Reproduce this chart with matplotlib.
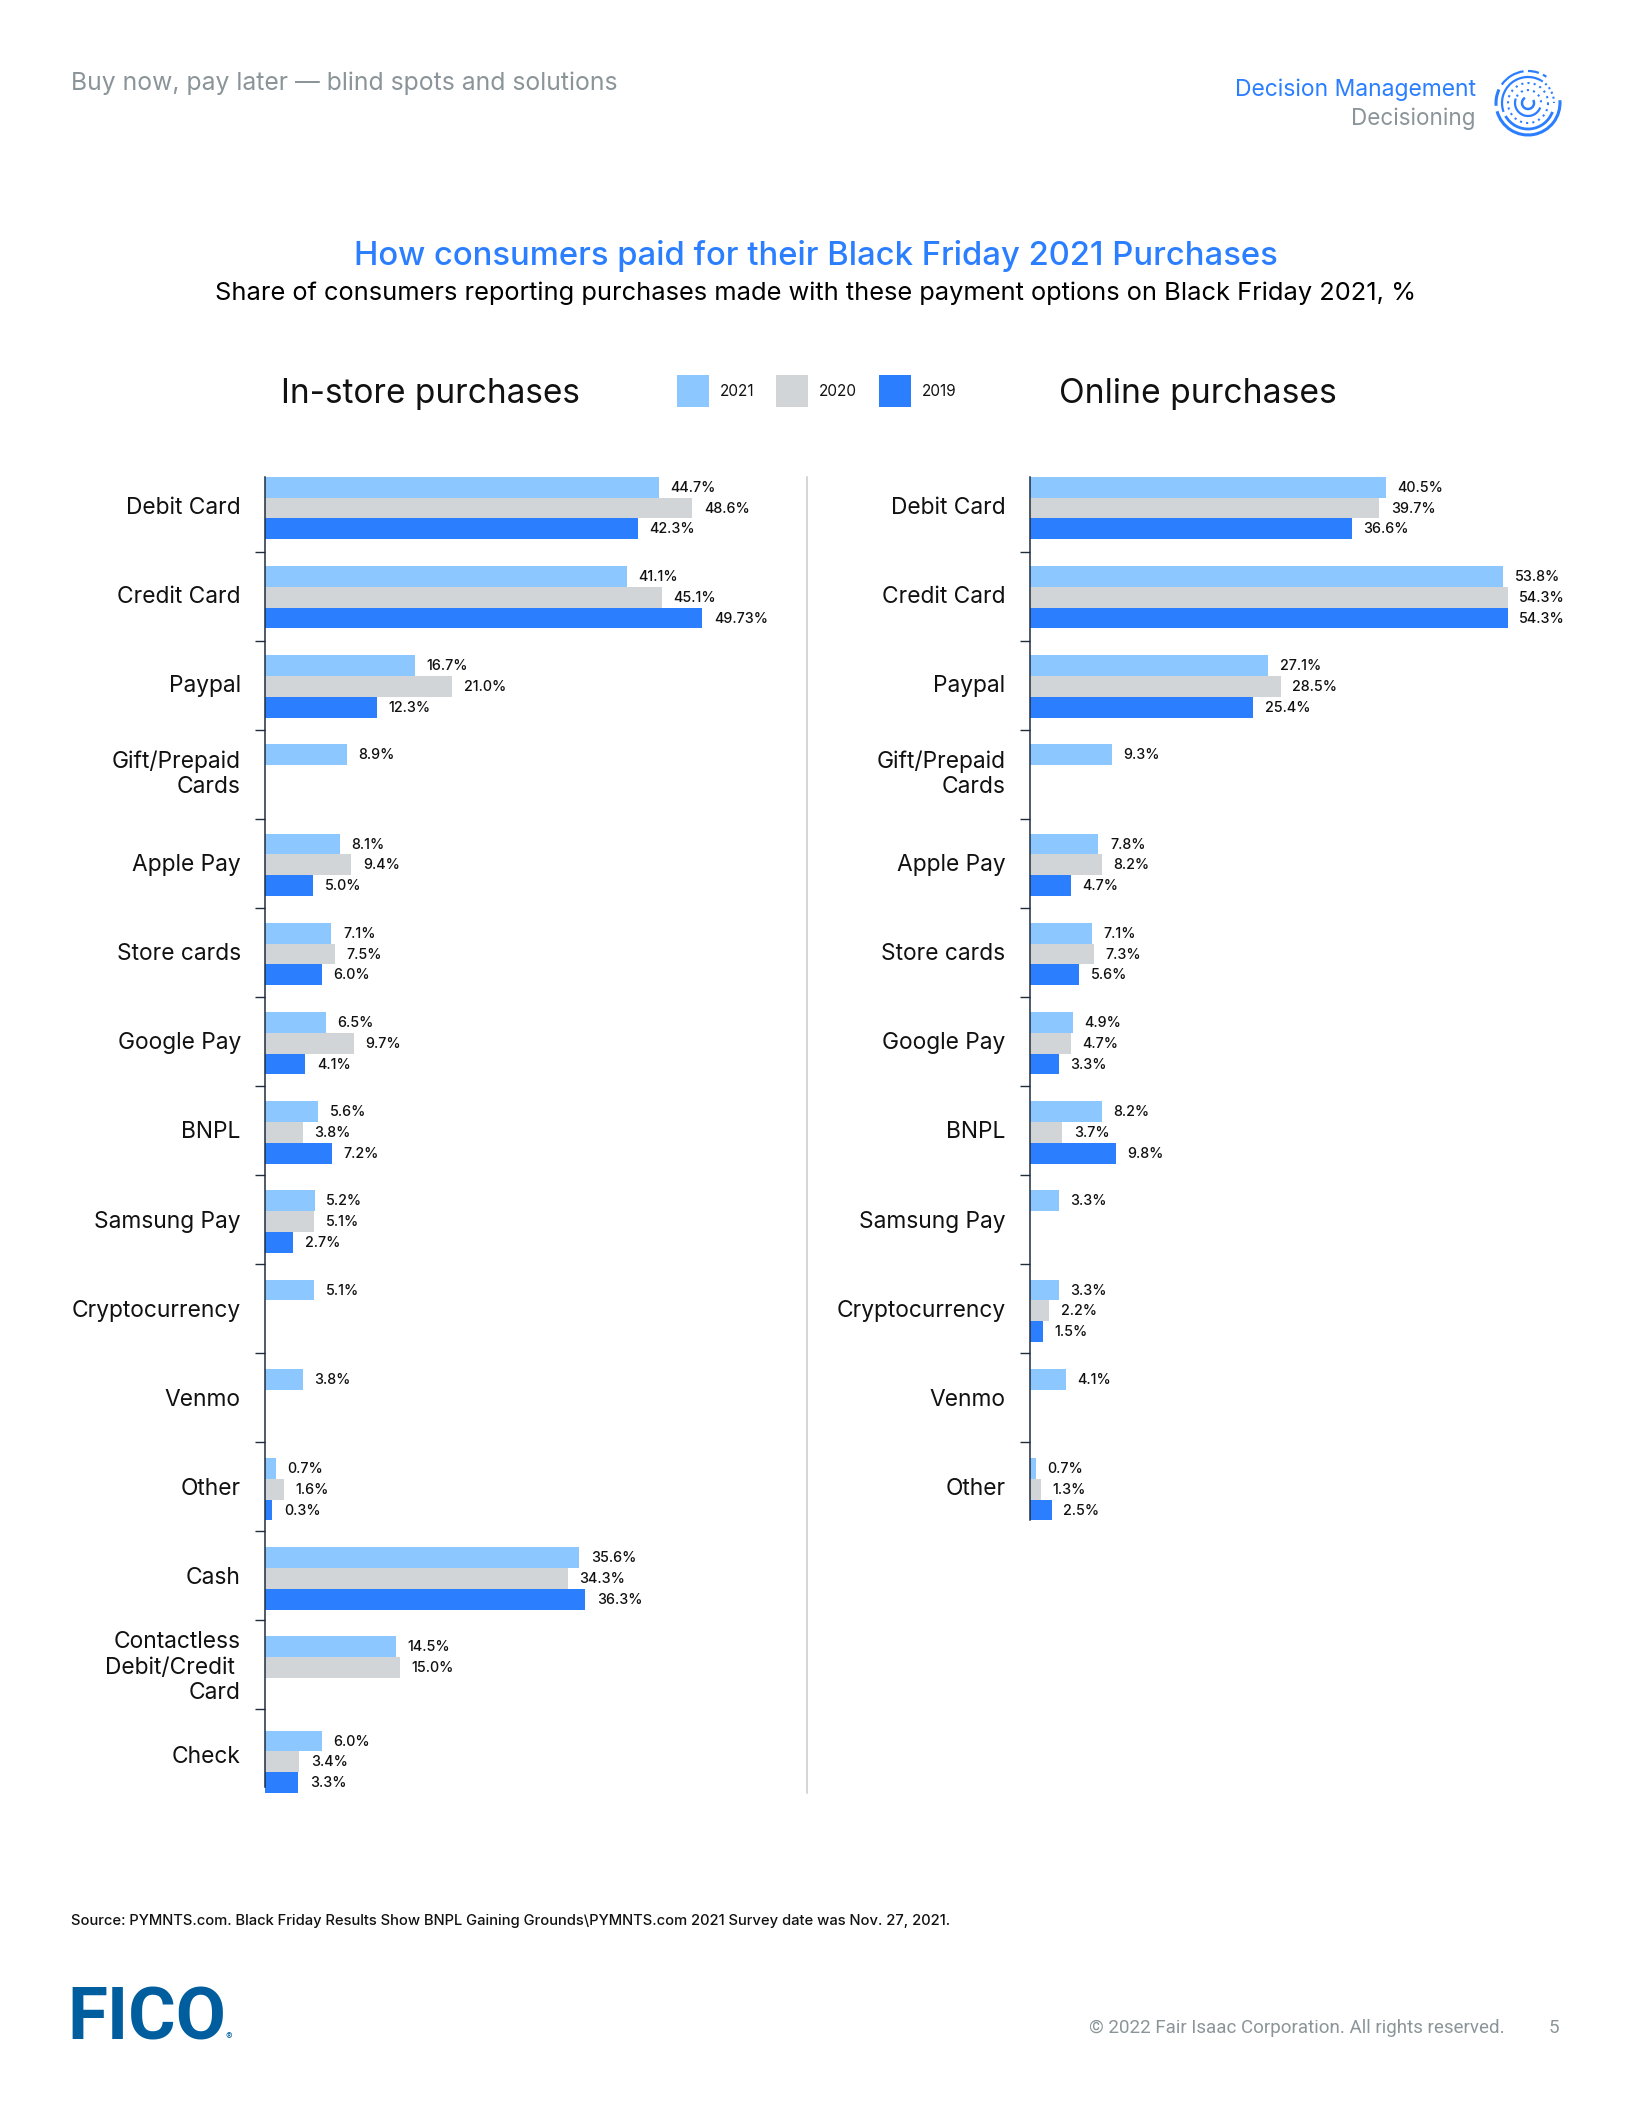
import numpy as np
import matplotlib
matplotlib.use("Agg")
import matplotlib.pyplot as plt
from matplotlib.patches import Rectangle, Arc

plt.rcParams['font.family'] = ['Inter', 'DejaVu Sans']

categories = ["Debit Card", "Credit Card", "Paypal", "Gift/Prepaid\nCards", "Apple Pay", "Store cards",
              "Google Pay", "BNPL", "Samsung Pay", "Cryptocurrency", "Venmo", "Other", "Cash",
              "Contactless\nDebit/Credit \nCard", "Check"]
online_categories = categories[:12]

nan = float("nan")
store_2021 = [44.7, 41.1, 16.7, 8.9, 8.1, 7.1, 6.5, 5.6, 5.2, 5.1, 3.8, 0.7, 35.6, 14.5, 6.0]
store_2020 = [48.6, 45.1, 21.0, nan, 9.4, 7.5, 9.7, 3.8, 5.1, nan, nan, 1.6, 34.3, 15.0, 3.4]
store_2019 = [42.3, 49.73, 12.3, nan, 5.0, 6.0, 4.1, 7.2, 2.7, nan, nan, 0.3, 36.3, nan, 3.3]
online_2021 = [40.5, 53.8, 27.1, 9.3, 7.8, 7.1, 4.9, 8.2, 3.3, 3.3, 4.1, 0.7]
online_2020 = [39.7, 54.3, 28.5, nan, 8.2, 7.3, 4.7, 3.7, nan, 2.2, nan, 1.3]
online_2019 = [36.6, 54.3, 25.4, nan, 4.7, 5.6, 3.3, 9.8, nan, 1.5, nan, 2.5]

years = ["2021", "2020", "2019"]
colors = ["#8CC8FF", "#D1D5D7", "#2B7FFF"]
BLUE = "#2B7FFF"
DARK = "#1F2D3D"
GREY = "#8B9599"

W, H = 1631, 2111
fig = plt.figure(figsize=(W / 100, H / 100), dpi=100)

# full page overlay in pixel coords for the header, legend and footer
page = fig.add_axes([0, 0, 1, 1])
page.set_xlim(0, W)
page.set_ylim(H, 0)
page.axis("off")

page.text(71, 83, "Buy now, pay later — blind spots and solutions", fontsize=17.8, color=GREY, va="center")
page.text(1476, 90, "Decision Management", fontsize=16.5, color=BLUE, va="center", ha="right")
page.text(1476, 119, "Decisioning", fontsize=16.2, color=GREY, va="center", ha="right")

page.text(816, 256, "How consumers paid for their Black Friday 2021 Purchases", fontsize=23.6,
          color=BLUE, va="center", ha="center", fontweight="medium")
page.text(816, 293, "Share of consumers reporting purchases made with these payment options on Black Friday 2021, %",
          fontsize=18.3, color="black", va="center", ha="center")
page.text(281, 394, "In-store purchases", fontsize=24, color="#111111", va="center")
page.text(1059, 394, "Online purchases", fontsize=24.2, color="#111111", va="center")

for x, year, c in zip([677, 776, 879], years, colors):
    page.add_patch(Rectangle((x, 375), 32, 32, color=c, lw=0))
    page.text(x + 43, 391, year, fontsize=11, color="#111111", va="center")

page.plot([807.5, 807.5], [477, 1793], color="#C8CCCE", lw=1.1)

# logo rings: radius, start, end, width, style
rings = [(32, -5, 165, 2.2, "-"), (32, 175, 205, 2.2, "-"), (32, 215, 262, 1.6, "-"), (32, 270, 305, 1.6, (0, (5, 2))),
         (26, 20, 150, 2.0, "-"), (26, 160, 300, 1.6, "-"), (26, 300, 360, 1.5, (0, (1, 1.5))),
         (20, 0, 360, 1.5, (0, (1, 2))), (13, 20, 200, 1.6, "-"), (13, 210, 360, 1.5, (0, (1, 2))),
         (6, 330, 240, 1.8, "-")]
for r, t1, t2, lw, ls in rings:
    page.add_patch(Arc((1528, 103), 2 * r, 2 * r, theta1=t1, theta2=t2, color=BLUE, lw=lw, ls=ls))

page.text(71, 1921, "Source: PYMNTS.com. Black Friday Results Show BNPL Gaining Grounds\\PYMNTS.com 2021 Survey date was Nov. 27, 2021.",
          fontsize=10.6, color="#111111", va="center", fontweight="medium")
page.text(67, 2040, "FICO", fontsize=52.5, color="#005E9E", fontweight="bold", family=["Roboto", "DejaVu Sans"], va="baseline")
page.text(226, 2040, "®", fontsize=7, color="#005E9E", va="baseline")
page.text(1505, 2028, "© 2022 Fair Isaac Corporation. All rights reserved.", fontsize=13.5, color=GREY,
          family=["Roboto", "DejaVu Sans"], va="center", ha="right")
page.text(1559, 2028, "5", fontsize=13.5, color=GREY, family=["Roboto", "DejaVu Sans"], va="center", ha="right")

# chart scale
PITCH = 89.2
Y0 = 508
TOP, BOTTOM = 477, 1793
BAR = 20.75 / PITCH


def draw_panel(x_left, width, cats, series, spine_end, px_per_pct, x_min):
    ax = fig.add_axes([x_left / W, 1 - BOTTOM / H, width / W, (BOTTOM - TOP) / H])
    ax.patch.set_alpha(0)
    ax.set_xlim(x_min, x_min + width / px_per_pct)
    ax.set_ylim((BOTTOM - Y0) / PITCH, (TOP - Y0) / PITCH)
    y = np.arange(len(cats), dtype=float)
    bar_y = y.copy()
    if len(cats) == 15:
        bar_y[14] += 0.055  # last group sits a little lower on the page
    for k, (vals, c) in enumerate(zip(series, colors)):
        pos = bar_y + (k - 1) * BAR
        ax.barh(pos, np.array(vals) - x_min, left=x_min, height=BAR, color=c, lw=0)
        for p, v in zip(pos, vals):
            if np.isnan(v):
                continue
            txt = f"{v:.2f}%" if round(v, 1) != v else f"{v:.1f}%"
            ax.annotate(txt, (v, p), xytext=(11.5 * 0.72, -0.4), textcoords="offset points",
                        fontsize=10.3, color="#111111", va="center", fontweight="medium")
    for name, p in zip(cats, y):
        ls = 1.0
        dy = 0
        if name.startswith("Gift"):
            ls, dy = 1.2, 1.5
        elif name.startswith("Contactless"):
            ls = 1.2
        ax.annotate(name, (x_min, p), xytext=(-24.5 * 0.72, dy * 0.72), textcoords="offset points",
                    fontsize=16.4, color="#111111", va="center", ha="right", multialignment="right",
                    linespacing=ls)
    ticks = 0.497 + np.arange(len(cats) - 1) * 89 / PITCH
    ax.set_yticks(ticks)
    ax.set_yticklabels([])
    ax.set_xticks([])
    ax.tick_params(axis="y", length=7.2, width=1, color=DARK)
    for s in ["top", "right", "bottom"]:
        ax.spines[s].set_visible(False)
    ax.spines["left"].set_color(DARK)
    ax.spines["left"].set_linewidth(1.1)
    ax.spines["left"].set_bounds((spine_end - Y0) / PITCH, (TOP - Y0) / PITCH)
    return ax


draw_panel(265.3, 520, categories, [store_2021, store_2020, store_2019], 1787, 8.7, -0.5)
draw_panel(1029.8, 520, online_categories, [online_2021, online_2020, online_2019], 1520, 8.8, 0)

fig.savefig("out.png", dpi=100)
